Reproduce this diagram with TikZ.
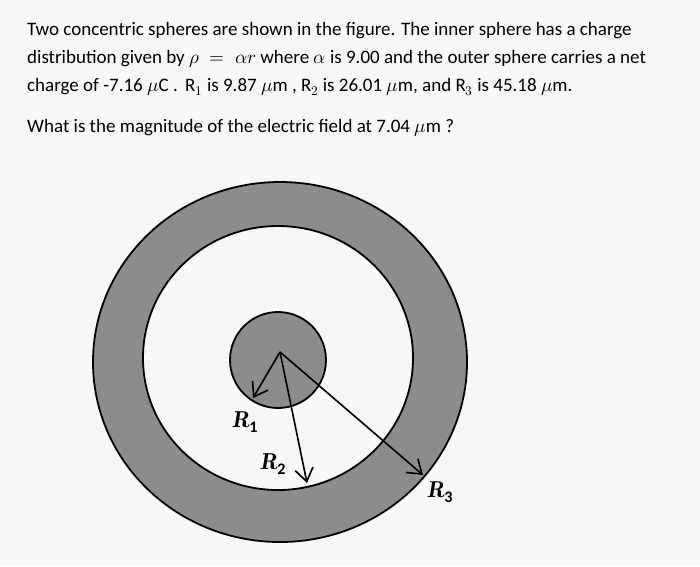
\documentclass[tikz,border=0pt]{standalone}
\usepackage{fontspec}
\setmainfont{Carlito}
\usepackage{unicode-math}
\usetikzlibrary{arrows.meta}
\begin{document}
\begin{tikzpicture}[x=1pt,y=-1pt,
  txt/.style={anchor=base west,inner sep=0pt,font=\fontsize{19}{22}\selectfont},
  rlab/.style={inner sep=0pt,font=\fontfamily{lmr}\fontsize{23}{25}\selectfont\bfseries\itshape},
  ring/.style={draw=black,line width=1.8pt},
  arr/.style={draw=black,line width=1.6pt,-{Straight Barb[length=13pt,width=18pt,line width=1.6pt]}}]
\useasboundingbox (0,0) rectangle (700,566);
\fill[white!94!gray] (0,0) rectangle (700,566);
\node[txt] (l1) at (27,35) {Two concentric spheres are shown in the figure. The inner sphere has a charge};
\node[txt] (l2) at (27,63) {distribution given by $\rho\;=\;\alpha r$ where $\alpha$ is 9.00 and the outer sphere carries a net};
\node[txt] (l3) at (27,91) {charge of -7.16 $\mu$C .\, R$_1$ is 9.87 $\mu$m , R$_2$ is 26.01 $\mu$m, and R$_3$ is 45.18 $\mu$m.};
\node[txt] (l4) at (27,132) {What is the magnitude of the electric field at 7.04 $\mu$m ?};
\filldraw[ring,fill=black!45] (280,362) ellipse (187 and 180);
\filldraw[ring,fill=white!94!gray] (278,358) ellipse (135 and 132);
\filldraw[ring,fill=black!45] (278,360) circle (48);
\coordinate (c) at (280,352);
\coordinate (t1) at (253,398);
\coordinate (t2) at (307,483);
\coordinate (t3) at (423,475);
\draw[arr] (c) -- (t1);
\draw[arr] (c) -- (t2);
\draw[arr] (c) -- (t3);
\node[rlab] (r1) at (245,422) {R$_{\mathbf 1}$};
\node[rlab] (r2) at (273,464) {R$_{\mathbf 2}$};
\node[rlab] (r3) at (440,492) {R$_{\mathbf 3}$};
\end{tikzpicture}
\end{document}
